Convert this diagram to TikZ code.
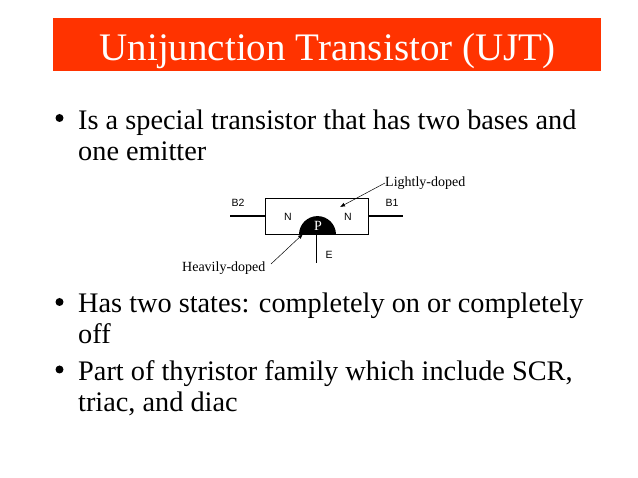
\documentclass[tikz,border=0pt]{standalone}
\usepackage{fontspec}
\setmainfont{Liberation Serif}
\setsansfont{Liberation Sans}
\usetikzlibrary{arrows.meta}
\definecolor{titlered}{HTML}{FF3300}
\tikzset{
  x=1pt,y=-1pt,
  body/.style={anchor=base west,inner sep=0pt,font=\fontsize{28.3}{30}\selectfont},
  bul/.style={circle,fill=black,inner sep=0pt,minimum size=8pt},
  lead/.style={line width=1.2pt},
  pin/.style={anchor=center,inner sep=0pt,font=\sffamily\fontsize{10.5}{12}\selectfont},
  anno/.style={inner sep=0pt,font=\fontsize{14}{16}\selectfont},
  leader/.style={line width=0.5pt,-{Latex[length=5pt,width=4pt]}}
}
\begin{document}
\begin{tikzpicture}
\useasboundingbox (0,0) rectangle (638,478);
\fill[white] (0,0) rectangle (638,478);
\node[fill=titlered,minimum width=548pt,minimum height=53pt,inner sep=0pt] (titlebar) at (327,44.5) {};
\node[text=white,inner sep=0pt,anchor=base,font=\fontsize{39}{42}\selectfont] (title) at (327.5,61) {Unijunction Transistor (UJT)};
\node[bul] (b1) at (59.5,118) {};
\node[body] (t1) at (78,130) {Is a special transistor that has two bases and};
\node[body] (t1b) at (78,160.5) {one emitter};
\node[bul] (b2) at (59.5,302) {};
\node[body] (t2) at (78,313) {Has two states: completely on or completely};
\node[body] (t2b) at (78,343.7) {off};
\node[bul] (b3) at (59.5,369.5) {};
\node[body] (t3) at (78,381) {Part of thyristor family which include SCR,};
\node[body] (t3b) at (78,411.7) {triac, and diac};
% device
\node[draw,lead,minimum width=103pt,minimum height=36pt,inner sep=0pt,anchor=north west] (bar) at (265,198) {};
\fill (299,234.6) arc[start angle=180,end angle=360,radius=18.5] -- cycle;
\node[inner sep=0pt,text=white,font=\fontsize{14}{16}\selectfont] (p) at (318,226) {P};
\coordinate (b2end) at (230,216);
\coordinate (b1end) at (403,216);
\coordinate (eend) at (316.5,263);
\coordinate (etop) at (316.5,234);
\draw[lead] (b2end) -- (bar.west |- b2end);
\draw[lead] (bar.east |- b1end) -- (b1end);
\draw[lead] (etop) -- (eend);
\node[pin] (lb2) at (238,203) {B2};
\node[pin] (lb1) at (392,203) {B1};
\node[pin] (ln1) at (288,217) {N};
\node[pin] (ln2) at (348,217) {N};
\node[pin] (le) at (329,255) {E};
\node[anno,anchor=west] (light) at (385,183) {Lightly-doped};
\node[anno,anchor=west] (heavy) at (182,268) {Heavily-doped};
\coordinate (lt) at (340,207);
\coordinate (ht) at (303,234);
\draw[leader] (light.west) -- (lt);
\draw[leader] (271,264) -- (ht);
\end{tikzpicture}
\end{document}
